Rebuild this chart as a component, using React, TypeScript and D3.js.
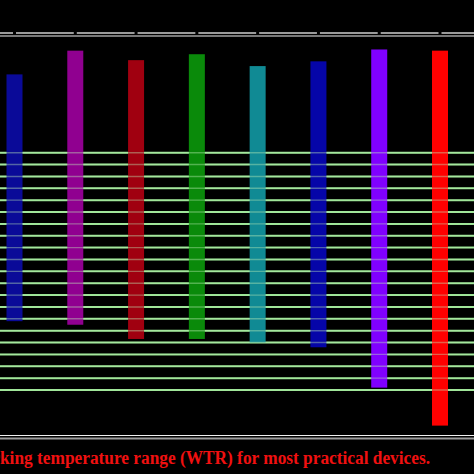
import React from "react";
import * as d3 from "d3";

const devices = ["D1", "D2", "D3", "D4", "D5", "D6", "D7", "D8"];
const highTemps = [266, 286, 278, 283, 273, 277, 287, 286];
const lowTemps = [58, 55, 43, 43, 40, 36, 2, -30];
const barColors = ["#0a0a98", "#900090", "#a00010", "#0a8a0a", "#108a94", "#0505a8", "#8000ff", "#ff0000"];
const gridValues = d3.range(0, 201, 10);
const captionHidden = "Wor";
const captionVisible = "king temperature range (WTR) for most practical devices.";

const W = 474;
const H = 474;

export default function App() {
  const x = d3.scalePoint<string>().domain(devices).range([14.5, 440]);
  const y = d3.scaleLinear().domain([0, 200]).range([390, 152.7]);
  const barW = 16;
  const font = "'Liberation Serif', 'Times New Roman', serif";

  return (
    <svg width={W} height={H} style={{ position: "absolute", left: 0, top: 0, background: "#000" }}>
      <rect x={0} y={0} width={W} height={H} fill="#000" />
      {/* top frame */}
      <line x1={0} x2={W} y1={33} y2={33} stroke="#9a9a9a" strokeWidth={2} />
      {devices.map((d) => (
        <rect key={"gap" + d} x={(x(d) as number) - 1.5} y={31} width={3} height={4} fill="#000" />
      ))}
      <line x1={0} x2={W} y1={36} y2={36} stroke="#f0f0f0" strokeWidth={1.2} />
      {/* grid lines behind */}
      {gridValues.map((v) => (
        <line key={"g" + v} x1={0} x2={W} y1={y(v)} y2={y(v)} stroke="#94e28e" strokeWidth={2} />
      ))}
      {/* bars */}
      {devices.map((d, i) => (
        <rect
          key={d}
          x={(x(d) as number) - barW / 2}
          y={y(highTemps[i])}
          width={barW}
          height={y(lowTemps[i]) - y(highTemps[i])}
          fill={barColors[i]}
        />
      ))}
      {/* grid lines faintly over bars */}
      {gridValues.map((v) => (
        <line key={"go" + v} x1={0} x2={W} y1={y(v)} y2={y(v)} stroke="#c0f0b8" strokeWidth={1.4} opacity={0.4} />
      ))}
      {/* bottom frame */}
      <line x1={0} x2={W} y1={435.5} y2={435.5} stroke="#f0f0f0" strokeWidth={1.2} />
      <line x1={0} x2={W} y1={438.5} y2={438.5} stroke="#9a9a9a" strokeWidth={2} />
      <text x={0} y={464} textAnchor="end" fontFamily={font} fontSize={18} fontWeight="bold" fill="#f01010">
        {captionHidden}
      </text>
      <text
        x={0}
        y={464}
        textLength={430}
        lengthAdjust="spacingAndGlyphs"
        fontFamily={font}
        fontSize={18}
        fontWeight="bold"
        fill="#f01010"
      >
        {captionVisible}
      </text>
    </svg>
  );
}
